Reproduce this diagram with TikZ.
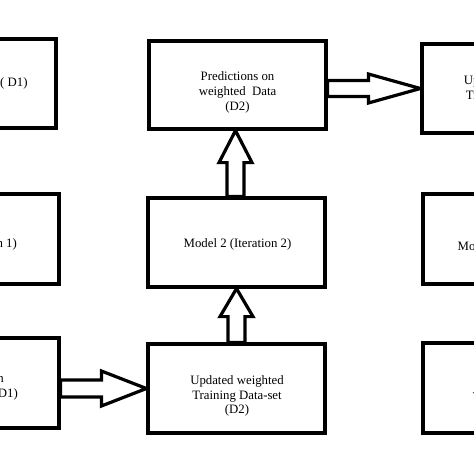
\documentclass[tikz,border=0pt]{standalone}
\usepackage{fontspec}
\setmainfont{Liberation Serif}
\usetikzlibrary{calc,backgrounds}
\begin{document}
\begin{tikzpicture}[x=1pt,y=-1pt,
  box/.style={draw, fill=white, line width=3.2pt, minimum width=177pt, minimum height=89pt, inner sep=0pt},
  txt/.style={align=center, font=\fontsize{12.8}{14.8}\selectfont, inner sep=0pt},
  barrow/.style={draw, line width=3.2pt, fill=white, line join=miter, miter limit=10}]
\useasboundingbox (0,0) rectangle (474,474);
\clip (0,0) rectangle (474,474);
% boxes
\node[box, minimum width=177pt] (L1) at (-32.5,83.5) {};
\node[box, minimum width=192pt, minimum height=90pt] (L2) at (-37,239) {};
\node[box, minimum width=184pt, minimum height=90pt] (L3) at (-33,383) {};
\node[box, minimum height=88pt] (C1) at (237.5,85) {};
\node[box] (C2) at (236.5,242.5) {};
\node[box] (C3) at (236.5,388.5) {};
\node[box] (R1) at (510.5,88.5) {};
\node[box, minimum height=90pt] (R2) at (511.5,239) {};
\node[box, minimum height=90pt] (R3) at (511.5,388) {};
% texts
\node[txt] (L1t) at (-32.5,83.5) {Training Data-set ( D1)};
\node[txt] (L2t) at (-37,244) {Model 1 (Iteration 1)};
\node[txt] (L3t) at (-33,387) {Predictions on\\weighted Data (D1)};
\node[txt] (C1t) at (237.5,92.5) {Predictions on\\weighted\ \ Data\\(D2)};
\node[txt] (C2t) at (237.5,244) {Model 2 (Iteration 2)};
\node[txt] (C3t) at (237,396) {Updated weighted\\Training Data-set\\(D2)};
\node[txt] (R1t) at (510.5,96) {Updated weighted\\Training Data-set\\(D3)};
\node[txt] (R2t) at (511.5,247) {Model 3 (Iteration 3)};
\node[txt] (R3t) at (511.5,395.5) {Predictions on\\weighted\ \ Data\\(D3)};
% arrow anchor points
\coordinate (a1s) at (L3.east|-C3.west);
\coordinate (a1t) at (C3.west);
\coordinate (a2s) at (C3.north);
\coordinate (a2t) at (C2.south);
\coordinate (a3s) at ($(C2.north)+(-1,0)$);
\coordinate (a3t) at (a3s|-C1.south);
\coordinate (a4s) at (C1.east|-R1.west);
\coordinate (a4t) at (R1.west);
\begin{scope}[on background layer]
\fill[white] (0,0) rectangle (474,474);
\draw[barrow] ($(a1s)+(0,-8.5)$) -- ($(a1t)+(-45,-8.5)$) -- ($(a1t)+(-45,-17.5)$) -- (a1t)
  -- ($(a1t)+(-45,17.5)$) -- ($(a1t)+(-45,8.5)$) -- ($(a1s)+(0,8.5)$) -- cycle;
\draw[barrow] ($(a2s)+(-8.5,0)$) -- ($(a2t)+(-8.5,28)$) -- ($(a2t)+(-16.5,28)$) -- (a2t)
  -- ($(a2t)+(16.5,28)$) -- ($(a2t)+(8.5,28)$) -- ($(a2s)+(8.5,0)$) -- cycle;
\draw[barrow] ($(a3s)+(-8.5,0)$) -- ($(a3t)+(-8.5,32)$) -- ($(a3t)+(-16.5,32)$) -- (a3t)
  -- ($(a3t)+(16.5,32)$) -- ($(a3t)+(8.5,32)$) -- ($(a3s)+(8.5,0)$) -- cycle;
\draw[barrow] ($(a4s)+(0,-8)$) -- ($(a4t)+(-52,-8)$) -- ($(a4t)+(-52,-14.5)$) -- (a4t)
  -- ($(a4t)+(-52,14.5)$) -- ($(a4t)+(-52,8)$) -- ($(a4s)+(0,8)$) -- cycle;
\end{scope}
\end{tikzpicture}
\end{document}
